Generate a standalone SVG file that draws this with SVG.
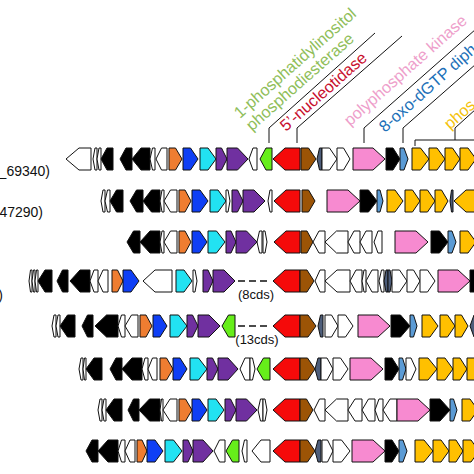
<svg xmlns="http://www.w3.org/2000/svg" width="474" height="474" viewBox="0 0 474 474">
<style>
path{stroke:#111;stroke-width:1;stroke-linejoin:miter}
.w{fill:#fff}.k{fill:#000}.o{fill:#ef7d31}.b{fill:#0f3ff5}.c{fill:#22e2f2}.p{fill:#7030a0}.g{fill:#66ee1a}.r{fill:#f50a0a}.n{fill:#9c5406}.m{fill:#f78ad0}.l{fill:#5b9bd5}.s{fill:#4d5d7a}.y{fill:#ffc000}
text{font-family:"Liberation Sans",Arial,sans-serif}
.lab{font-size:16.3px}
.side{font-size:14px;fill:#111}
.cds{font-size:13px;fill:#111;text-anchor:middle}
.ln{fill:none;stroke:#111;stroke-width:1}
.dash{fill:none;stroke:#111;stroke-width:1.3;stroke-dasharray:7 4}
</style>
<rect width="474" height="474" fill="#fff"/>
<g id="side-labels">
<text class="side" x="50" y="176" text-anchor="end">_69340)</text>
<text class="side" x="43" y="217" text-anchor="end">47290)</text>
<text class="side" x="3" y="300" text-anchor="end">)</text>
</g>
<g id="labels">
<g id="lab-pde" fill="#8fbe5a"><text class="lab" transform="translate(240,119) rotate(-41.5)">1-phosphatidylinositol</text><text class="lab" transform="translate(252,131.5) rotate(-41.5)">phosphodiesterase</text></g>
<g id="lab-nuc"><text class="lab" fill="#c8102e" transform="translate(286,132) rotate(-41.5)">5’-nucleotidase</text></g>
<g id="lab-ppk"><text class="lab" fill="#ee9fcb" transform="translate(350,126.5) rotate(-41.5)">polyphosphate kinase</text></g>
<g id="lab-oxo"><text class="lab" fill="#2070b8" transform="translate(385,133) rotate(-41.5)">8-oxo-dGTP diph</text></g>
<g id="lab-pho"><text class="lab" fill="#f4c20d" transform="translate(450,130) rotate(-41.5)">phos</text></g>
</g>
<g id="connectors">
<polyline class="ln" points="269,143 269,128 375,33"/>
<polyline class="ln" points="297,143 297,128 402,36"/>
<polyline class="ln" points="364,143 364,128 476,29"/>
<polyline class="ln" points="403,143 403,128 476,64"/>
<polyline class="ln" points="455,140 455,128 476,109"/>
<polyline class="ln" points="415,146 415,140 476,140"/>
<line class="dash" x1="238" y1="281" x2="267" y2="281"/>
<line class="dash" x1="238" y1="326" x2="267" y2="326"/>
<text class="cds" x="256" y="299">(8cds)</text>
<text class="cds" x="257" y="344">(13cds)</text>
</g>
<g id="row1">
<path class="w" d="M91,148h-12l-13,11l13,11h12z"/>
<path class="w" d="M97,148h-2l-2,11l2,11h2z"/>
<path class="w" d="M101,148h-2l-2,11l2,11h2z"/>
<path class="k" d="M113,148h-6l-6,11l6,11h6z"/>
<path class="k" d="M132,148h-6l-6,11l6,11h6z"/>
<path class="k" d="M150,148h-9l-9,11l9,11h9z"/>
<path class="w" d="M155,148h-2.5l-2.5,11l2.5,11h2.5z"/>
<path class="w" d="M167,148h-5.5l-5.5,11l5.5,11h5.5z"/>
<path class="o" d="M169,148h6.5l6.5,11l-6.5,11h-6.5z"/>
<path class="b" d="M183,148h7.5l7.5,11l-7.5,11h-7.5z"/>
<path class="c" d="M200,148h8l8,11l-8,11h-8z"/>
<path class="p" d="M216,148h5.5l5.5,11l-5.5,11h-5.5z"/>
<path class="p" d="M227,148h10.5l10.5,11l-10.5,11h-10.5z"/>
<path class="w" d="M257,148h-4l-4,11l4,11h4z"/>
<path class="g" d="M272,148h-6l-6,11l6,11h6z"/>
<path class="r" d="M300,148h-15l-12,11l12,11h15z"/>
<path class="n" d="M301,148h7.5l7.5,11l-7.5,11h-7.5z"/>
<path class="s" d="M322,148h-2.5l-2.5,11l2.5,11h2.5z"/>
<path class="w" d="M322,148h7.5l7.5,11l-7.5,11h-7.5z"/>
<path class="w" d="M337,148h6.5l6.5,11l-6.5,11h-6.5z"/>
<path class="m" d="M353,148h20l12,11l-12,11h-20z"/>
<path class="k" d="M386,148h7l7,11l-7,11h-7z"/>
<path class="l" d="M400,148h4l4,11l-4,11h-4z"/>
<path class="y" d="M412,148h8.5l8.5,11l-8.5,11h-8.5z"/>
<path class="y" d="M429,148h8l8,11l-8,11h-8z"/>
<path class="y" d="M445,148h7.5l7.5,11l-7.5,11h-7.5z"/>
<path class="y" d="M460,148h8l8,11l-8,11h-8z"/>
</g>
<g id="row2">
<path class="w" d="M105,190h-2l-2,11l2,11h2z"/>
<path class="w" d="M110,190h-2.5l-2.5,11l2.5,11h2.5z"/>
<path class="k" d="M123,190h-6.5l-6.5,11l6.5,11h6.5z"/>
<path class="k" d="M143,190h-6.5l-6.5,11l6.5,11h6.5z"/>
<path class="k" d="M160,190h-8.5l-8.5,11l8.5,11h8.5z"/>
<path class="w" d="M164,190h-2l-2,11l2,11h2z"/>
<path class="w" d="M177,190h-6.5l-6.5,11l6.5,11h6.5z"/>
<path class="o" d="M179,190h6l6,11l-6,11h-6z"/>
<path class="b" d="M192,190h8l8,11l-8,11h-8z"/>
<path class="c" d="M210,190h8l8,11l-8,11h-8z"/>
<path class="w" d="M226,190h2l2,11l-2,11h-2z"/>
<path class="p" d="M232,190h5.5l5.5,11l-5.5,11h-5.5z"/>
<path class="p" d="M243,190h11l11,11l-11,11h-11z"/>
<path class="w" d="M272,190h-2l-2,11l2,11h2z"/>
<path class="r" d="M300,190h-14l-12,11l12,11h14z"/>
<path class="n" d="M302,190h6.5l6.5,11l-6.5,11h-6.5z"/>
<path class="m" d="M327,190h21l12,11l-12,11h-21z"/>
<path class="k" d="M360,190h8.5l8.5,11l-8.5,11h-8.5z"/>
<path class="l" d="M377,190h3l3,11l-3,11h-3z"/>
<path class="y" d="M387,190h8l8,11l-8,11h-8z"/>
<path class="y" d="M405,190h7.5l7.5,11l-7.5,11h-7.5z"/>
<path class="y" d="M420,190h7.5l7.5,11l-7.5,11h-7.5z"/>
<path class="y" d="M435,190h6.5l6.5,11l-6.5,11h-6.5z"/>
<path class="s" d="M453,190h-1.5l-1.5,11l1.5,11h1.5z"/>
<path class="y" d="M482,190h-16l-12,11l12,11h16z"/>
</g>
<g id="row3">
<path class="k" d="M140,231h-6.5l-6.5,11l6.5,11h6.5z"/>
<path class="k" d="M160,231h-10l-10,11l10,11h10z"/>
<path class="w" d="M164,231h-2l-2,11l2,11h2z"/>
<path class="w" d="M177,231h-6.5l-6.5,11l6.5,11h6.5z"/>
<path class="o" d="M179,231h6l6,11l-6,11h-6z"/>
<path class="b" d="M192,231h7.5l7.5,11l-7.5,11h-7.5z"/>
<path class="c" d="M208,231h8.5l8.5,11l-8.5,11h-8.5z"/>
<path class="p" d="M226,231h5l5,11l-5,11h-5z"/>
<path class="p" d="M236,231h10.5l10.5,11l-10.5,11h-10.5z"/>
<path class="w" d="M262,231h-2.5l-2.5,11l2.5,11h2.5z"/>
<path class="w" d="M263,231h2l2,11l-2,11h-2z"/>
<path class="r" d="M300,231h-14l-12,11l12,11h14z"/>
<path class="n" d="M301,231h6l6,11l-6,11h-6z"/>
<path class="w" d="M325,231h-6l-6,11l6,11h6z"/>
<path class="w" d="M348,231h-11.5l-11.5,11l11.5,11h11.5z"/>
<path class="w" d="M360,231h-6l-6,11l6,11h6z"/>
<path class="w" d="M372,231h-6l-6,11l6,11h6z"/>
<path class="w" d="M382,231h-4l-4,11l4,11h4z"/>
<path class="m" d="M395,231h21l12,11l-12,11h-21z"/>
<path class="k" d="M431,231h8.5l8.5,11l-8.5,11h-8.5z"/>
<path class="l" d="M448,231h4l4,11l-4,11h-4z"/>
<path class="y" d="M460,231h8l8,11l-8,11h-8z"/>
</g>
<g id="row4">
<path class="w" d="M32,270h-1.5l-1.5,11l1.5,11h1.5z"/>
<path class="w" d="M35,270h-1.5l-1.5,11l1.5,11h1.5z"/>
<path class="w" d="M38,270h-1.5l-1.5,11l1.5,11h1.5z"/>
<path class="k" d="M52,270h-7l-7,11l7,11h7z"/>
<path class="k" d="M68,270h-5.5l-5.5,11l5.5,11h5.5z"/>
<path class="k" d="M90,270h-10l-10,11l10,11h10z"/>
<path class="w" d="M98,270h-4l-4,11l4,11h4z"/>
<path class="w" d="M108,270h-5l-5,11l5,11h5z"/>
<path class="o" d="M112,270h5.5l5.5,11l-5.5,11h-5.5z"/>
<path class="b" d="M123,270h8l8,11l-8,11h-8z"/>
<path class="w" d="M172,270h-17l-12,11l12,11h17z"/>
<path class="c" d="M176,270h8l8,11l-8,11h-8z"/>
<path class="w" d="M193,270h2l2,11l-2,11h-2z"/>
<path class="p" d="M203,270h5l5,11l-5,11h-5z"/>
<path class="p" d="M213,270h11l11,11l-11,11h-11z"/>
<path class="r" d="M300,270h-15l-12,11l12,11h15z"/>
<path class="n" d="M300,270h7l7,11l-7,11h-7z"/>
<path class="w" d="M325,270h-5l-5,11l5,11h5z"/>
<path class="w" d="M350,270h-13l-12,11l12,11h13z"/>
<path class="w" d="M362,270h-6l-6,11l6,11h6z"/>
<path class="w" d="M366,270h-2l-2,11l2,11h2z"/>
<path class="w" d="M378,270h-6l-6,11l6,11h6z"/>
<path class="w" d="M384,270h-2.5l-2.5,11l2.5,11h2.5z"/>
<path class="s" d="M388,270h-2l-2,11l2,11h2z"/>
<path class="s" d="M388,270h2l2,11l-2,11h-2z"/>
<path class="w" d="M392,270h7.5l7.5,11l-7.5,11h-7.5z"/>
<path class="w" d="M407,270h6.5l6.5,11l-6.5,11h-6.5z"/>
<path class="w" d="M420,270h7.5l7.5,11l-7.5,11h-7.5z"/>
<path class="m" d="M438,270h20l12,11l-12,11h-20z"/>
<path class="k" d="M470,270h8l8,11l-8,11h-8z"/>
</g>
<g id="row5">
<path class="w" d="M56,315h-2l-2,11l2,11h2z"/>
<path class="w" d="M60,315h-2l-2,11l2,11h2z"/>
<path class="k" d="M75,315h-7.5l-7.5,11l7.5,11h7.5z"/>
<path class="k" d="M93,315h-5.5l-5.5,11l5.5,11h5.5z"/>
<path class="k" d="M118,315h-11.5l-11.5,11l11.5,11h11.5z"/>
<path class="w" d="M125,315h-3.5l-3.5,11l3.5,11h3.5z"/>
<path class="w" d="M138,315h-6.5l-6.5,11l6.5,11h6.5z"/>
<path class="o" d="M140,315h6l6,11l-6,11h-6z"/>
<path class="b" d="M153,315h7l7,11l-7,11h-7z"/>
<path class="c" d="M170,315h8.5l8.5,11l-8.5,11h-8.5z"/>
<path class="p" d="M187,315h5.5l5.5,11l-5.5,11h-5.5z"/>
<path class="p" d="M198,315h11l11,11l-11,11h-11z"/>
<path class="g" d="M235,315h-6.5l-6.5,11l6.5,11h6.5z"/>
<path class="r" d="M300,315h-15l-12,11l12,11h15z"/>
<path class="n" d="M300,315h8l8,11l-8,11h-8z"/>
<path class="s" d="M323,315h-2.5l-2.5,11l2.5,11h2.5z"/>
<path class="w" d="M325,315h6.5l6.5,11l-6.5,11h-6.5z"/>
<path class="w" d="M338,315h7.5l7.5,11l-7.5,11h-7.5z"/>
<path class="m" d="M358,315h20l12,11l-12,11h-20z"/>
<path class="k" d="M391,315h9.5l9.5,11l-9.5,11h-9.5z"/>
<path class="l" d="M410,315h3.5l3.5,11l-3.5,11h-3.5z"/>
<path class="y" d="M422,315h8l8,11l-8,11h-8z"/>
<path class="y" d="M440,315h7.5l7.5,11l-7.5,11h-7.5z"/>
<path class="y" d="M455,315h6.5l6.5,11l-6.5,11h-6.5z"/>
<path class="s" d="M478,315h-4l-4,11l4,11h4z"/>
</g>
<g id="row6">
<path class="w" d="M83,358h-2l-2,11l2,11h2z"/>
<path class="w" d="M86,358h-1.5l-1.5,11l1.5,11h1.5z"/>
<path class="k" d="M102,358h-8l-8,11l8,11h8z"/>
<path class="k" d="M122,358h-6l-6,11l6,11h6z"/>
<path class="k" d="M142,358h-10l-10,11l10,11h10z"/>
<path class="w" d="M148,358h-3l-3,11l3,11h3z"/>
<path class="w" d="M157,358h-4.5l-4.5,11l4.5,11h4.5z"/>
<path class="o" d="M160,358h6.5l6.5,11l-6.5,11h-6.5z"/>
<path class="b" d="M173,358h7l7,11l-7,11h-7z"/>
<path class="c" d="M190,358h8.5l8.5,11l-8.5,11h-8.5z"/>
<path class="p" d="M207,358h5.5l5.5,11l-5.5,11h-5.5z"/>
<path class="p" d="M218,358h10l10,11l-10,11h-10z"/>
<path class="w" d="M250,358h-5l-5,11l5,11h5z"/>
<path class="w" d="M250,358h2.5l2.5,11l-2.5,11h-2.5z"/>
<path class="g" d="M270,358h-6.5l-6.5,11l6.5,11h6.5z"/>
<path class="r" d="M300,358h-15l-12,11l12,11h15z"/>
<path class="n" d="M300,358h7.5l7.5,11l-7.5,11h-7.5z"/>
<path class="s" d="M321,358h-3l-3,11l3,11h3z"/>
<path class="w" d="M321,358h6l6,11l-6,11h-6z"/>
<path class="w" d="M333,358h7.5l7.5,11l-7.5,11h-7.5z"/>
<path class="m" d="M350,358h21l12,11l-12,11h-21z"/>
<path class="k" d="M385,358h7l7,11l-7,11h-7z"/>
<path class="l" d="M399,358h3.5l3.5,11l-3.5,11h-3.5z"/>
<path class="w" d="M406,358h5l5,11l-5,11h-5z"/>
<path class="y" d="M419,358h9l9,11l-9,11h-9z"/>
<path class="y" d="M437,358h8l8,11l-8,11h-8z"/>
<path class="y" d="M453,358h7l7,11l-7,11h-7z"/>
<path class="y" d="M467,358h8l8,11l-8,11h-8z"/>
</g>
<g id="row7">
<path class="w" d="M102,399h-2l-2,11l2,11h2z"/>
<path class="w" d="M106,399h-2l-2,11l2,11h2z"/>
<path class="k" d="M122,399h-8l-8,11l8,11h8z"/>
<path class="k" d="M139,399h-5.5l-5.5,11l5.5,11h5.5z"/>
<path class="k" d="M160,399h-10.5l-10.5,11l10.5,11h10.5z"/>
<path class="w" d="M163,399h-1.5l-1.5,11l1.5,11h1.5z"/>
<path class="w" d="M177,399h-7l-7,11l7,11h7z"/>
<path class="o" d="M179,399h6.5l6.5,11l-6.5,11h-6.5z"/>
<path class="b" d="M192,399h7.5l7.5,11l-7.5,11h-7.5z"/>
<path class="c" d="M208,399h8l8,11l-8,11h-8z"/>
<path class="p" d="M225,399h5.5l5.5,11l-5.5,11h-5.5z"/>
<path class="p" d="M236,399h10.5l10.5,11l-10.5,11h-10.5z"/>
<path class="w" d="M263,399h-2.5l-2.5,11l2.5,11h2.5z"/>
<path class="w" d="M263,399h2l2,11l-2,11h-2z"/>
<path class="r" d="M300,399h-15l-12,11l12,11h15z"/>
<path class="n" d="M300,399h6.5l6.5,11l-6.5,11h-6.5z"/>
<path class="w" d="M325,399h-5.5l-5.5,11l5.5,11h5.5z"/>
<path class="w" d="M348,399h-11.5l-11.5,11l11.5,11h11.5z"/>
<path class="w" d="M362,399h-7l-7,11l7,11h7z"/>
<path class="w" d="M375,399h-6.5l-6.5,11l6.5,11h6.5z"/>
<path class="w" d="M383,399h-4l-4,11l4,11h4z"/>
<path class="w" d="M397,399h-7l-7,11l7,11h7z"/>
<path class="m" d="M397,399h21l12,11l-12,11h-21z"/>
<path class="k" d="M430,399h10l10,11l-10,11h-10z"/>
<path class="l" d="M450,399h3.5l3.5,11l-3.5,11h-3.5z"/>
<path class="y" d="M462,399h8l8,11l-8,11h-8z"/>
</g>
<g id="row8">
<path class="k" d="M98,440h-6l-6,11l6,11h6z"/>
<path class="k" d="M118,440h-10l-10,11l10,11h10z"/>
<path class="w" d="M125,440h-3.5l-3.5,11l3.5,11h3.5z"/>
<path class="w" d="M135,440h-5l-5,11l5,11h5z"/>
<path class="o" d="M137,440h5l5,11l-5,11h-5z"/>
<path class="b" d="M147,440h8l8,11l-8,11h-8z"/>
<path class="c" d="M165,440h8.5l8.5,11l-8.5,11h-8.5z"/>
<path class="p" d="M183,440h5l5,11l-5,11h-5z"/>
<path class="p" d="M193,440h10l10,11l-10,11h-10z"/>
<path class="w" d="M225,440h-5.5l-5.5,11l5.5,11h5.5z"/>
<path class="g" d="M239,440h-6.5l-6.5,11l6.5,11h6.5z"/>
<path class="w" d="M247,440h-2.5l-2.5,11l2.5,11h2.5z"/>
<path class="w" d="M270,440h-9l-9,11l9,11h9z"/>
<path class="r" d="M300,440h-15l-12,11l12,11h15z"/>
<path class="n" d="M300,440h7.5l7.5,11l-7.5,11h-7.5z"/>
<path class="s" d="M321,440h-3l-3,11l3,11h3z"/>
<path class="w" d="M322,440h5.5l5.5,11l-5.5,11h-5.5z"/>
<path class="w" d="M333,440h8.5l8.5,11l-8.5,11h-8.5z"/>
<path class="m" d="M352,440h21l12,11l-12,11h-21z"/>
<path class="k" d="M385,440h7l7,11l-7,11h-7z"/>
<path class="l" d="M399,440h4l4,11l-4,11h-4z"/>
<path class="y" d="M415,440h9l9,11l-9,11h-9z"/>
<path class="y" d="M433,440h8l8,11l-8,11h-8z"/>
<path class="y" d="M449,440h7l7,11l-7,11h-7z"/>
<path class="y" d="M463,440h8l8,11l-8,11h-8z"/>
</g>
</svg>
